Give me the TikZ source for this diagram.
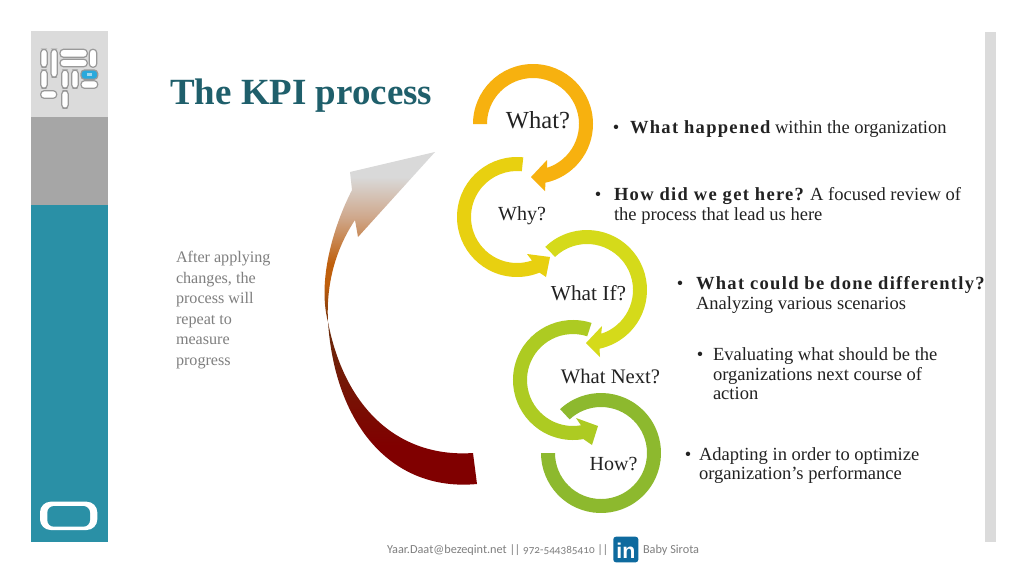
\documentclass[tikz,border=0pt]{standalone}
\usepackage{fontspec}
\usetikzlibrary{calc}
\setmainfont{Liberation Serif}
\newfontfamily\footfont[Numbers=OldStyle]{Carlito}
\newfontfamily\lifont{Liberation Sans}
\definecolor{cWhat}{HTML}{F7B10F}
\definecolor{cWhy}{HTML}{E8D010}
\definecolor{cIf}{HTML}{D5DA1A}
\definecolor{cNext}{HTML}{ADCB22}
\definecolor{cHow}{HTML}{8DB92E}
\definecolor{sA}{HTML}{800000}
\definecolor{sB}{HTML}{6B2B0B}
\definecolor{sC}{HTML}{BF5F0C}
\definecolor{sD}{HTML}{CFA88C}
\definecolor{sE}{HTML}{D9D9D9}
\definecolor{titleC}{HTML}{1F5F6B}
\definecolor{tealC}{HTML}{2A90A6}
\definecolor{bodyC}{HTML}{222222}
\definecolor{greyT}{HTML}{7F7F7F}
\definecolor{liC}{HTML}{0E6A9E}
\definecolor{blueT}{HTML}{29A9DC}
\pgfdeclareverticalshading{bigarrow}{100bp}{color(0bp)=(sA); color(31bp)=(sA); color(48.5bp)=(sB); color(55bp)=(sC); color(58bp)=(sC); color(65bp)=(sD); color(71bp)=(sE); color(100bp)=(sE)}
\newcommand{\bt}[1]{{\bfseries\addfontfeature{LetterSpace=7}#1}}
\tikzset{
  ink/.style={inner sep=0pt,outer sep=0pt,anchor=base west,text=bodyC,font=\fontsize{13.9}{16}\selectfont},
  bul/.style={inner sep=0pt,outer sep=0pt,anchor=base,text=bodyC,font=\fontsize{13.9}{16}\selectfont},
  ring/.style={inner sep=0pt,outer sep=0pt,anchor=base,text=bodyC,font=\fontsize{15}{18}\selectfont},
  side/.style={inner sep=0pt,outer sep=0pt,anchor=base west,text=greyT,font=\fontsize{12.1}{14}\selectfont},
  foot/.style={inner sep=0pt,outer sep=0pt,anchor=base west,text=greyT,font=\footfont\fontsize{9.2}{11}\selectfont},
  tile/.style={draw=black!40,line width=0.9pt,fill=white,rounded corners=2.6pt},
}
% colour, cx, cy, start, endOuter, endInner, headOuter, tip, headInner
\newcommand{\arrowring}[9]{\fill[#1] ($(#2,#3)+(#4:60)$) arc[start angle=#4,end angle=#5,radius=60] -- (#7) -- (#8) -- (#9) -- ($(#2,#3)+(#6:46)$) arc[start angle=#6,end angle=#4,radius=46] -- cycle;}
\begin{document}
\begin{tikzpicture}[x=0.75pt,y=-0.75pt]
\useasboundingbox (0,0) rectangle (1024,576);
\fill[white] (0,0) rectangle (1024,576);
% left panel
\fill[black!14] (31,31) rectangle (108,117);
\fill[black!35] (31,117) rectangle (108,205);
\fill[tealC] (31,205) rectangle (108,542);
\fill[black!14] (985,32) rectangle (996,542);
% tiles
\foreach \a/\b/\c/\d in {40.7/49.3/47.3/67.3,51/49.3/57.3/77.3,60/49.3/87.3/57.3,60/59.3/87.3/66.7,89.3/49.3/96.7/67.3,40.7/70/47.3/88.3,61.7/70/68.3/88.3,71.7/70/78.3/88.3,81/80.7/97.7/88.3,40.7/90.7/56.7/98.3,61.7/90.7/68.3/108.3}
  \draw[tile] (\a,\b) rectangle (\c,\d);
\draw[tile,fill=blueT] (81,70) rectangle (97.7,79.3);
\fill[white!55!blueT] (86.5,73) rectangle (92,76);
% logo
\fill[white,rounded corners=8pt] (40,501.7) rectangle (97.3,530);
\fill[tealC,rounded corners=5pt] (47.3,506) rectangle (90,526.7);
% title
\node[inner sep=0pt,anchor=base west,text=titleC,font=\bfseries\fontsize{27.7}{30}\selectfont] (title) at (170,104) {The KPI process};
% big arrow
\begin{scope}
\clip (477,484) .. controls (392,492) and (335,425) .. (328,322) .. controls (317,280) and (334,225) .. (352,190) -- (350,172) -- (435,152) -- (358,237) -- (355,220) .. controls (335,250) and (326,285) .. (328,322) .. controls (345,410) and (400,458) .. (473,453) -- cycle;
\shade[shading=bigarrow] (300,486) rectangle (480,150);
\end{scope}
% rings
\fill[cHow] ($(601,453)+(227:60)$) arc[start angle=227,end angle=540,radius=60] -- ($(601,453)+(540:46)$) arc[start angle=540,end angle=227,radius=46] -- cycle;
\arrowring{cNext}{573}{380}{288}{80}{80}{592,445}{598,426}{576,418}
\arrowring{cIf}{587}{290}{226}{438}{432}{600,357}{586,343}{602,326}
\arrowring{cWhy}{517}{217}{276}{68}{71}{546,277}{550,257}{527,254}
\arrowring{cWhat}{533}{124}{180}{438}{432}{545,191}{531,177}{547,160}
% ring labels
\node[ring,font=\fontsize{18.4}{22}\selectfont] (what) at (538,128) {What?};
\node[ring] (why) at (522,220) {Why?};
\node[ring,font=\fontsize{16}{18}\selectfont] (whatif) at (588.5,300) {What If?};
\node[ring,font=\fontsize{15.5}{18}\selectfont] (whatnext) at (610.5,383) {What Next?};
\node[ring] (how) at (613.5,470) {How?};
% bullets
\node[bul] (b1) at (616,133) {•};
\node[ink] (t1) at (630,133) {\bt{What happened} within the organization};
\node[bul] (b2) at (598,200) {•};
\node[ink] (t2a) at (614,200) {\bt{How did we get here?} A focused review of};
\node[ink] (t2b) at (614,220) {the process that lead us here};
\node[bul] (b3) at (680,289) {•};
\node[ink] (t3a) at (696,289) {\bt{What could be done differently?}};
\node[ink] (t3b) at (696,309) {Analyzing various scenarios};
\node[bul] (b4) at (700,360) {•};
\node[ink] (t4a) at (713,360) {Evaluating what should be the};
\node[ink] (t4b) at (713,380) {organizations next course of};
\node[ink] (t4c) at (713,399) {action};
\node[bul] (b5) at (688,460) {•};
\node[ink] (t5a) at (699,460) {Adapting in order to optimize};
\node[ink] (t5b) at (699,479) {organization’s performance};
% side text
\node[side] (s1) at (176,262) {After applying};
\node[side] (s2) at (176,283) {changes, the};
\node[side] (s3) at (176,303) {process will};
\node[side] (s4) at (176,324) {repeat to};
\node[side] (s5) at (176,344) {measure};
\node[side] (s6) at (176,365) {progress};
% footer
\node[foot] (f1) at (387,553) {Yaar.Daat@bezeqint.net |\kern-0.4pt| {\fontsize{8.4}{11}\selectfont 972-544385410} |\kern-0.4pt|};
\fill[fill=liC,rounded corners=2pt] (613.3,536.7) rectangle (638.3,562.3);
\node[inner sep=0pt,anchor=base,text=white,font=\lifont\bfseries\fontsize{16}{18}\selectfont] (li) at (625.8,558) {in};
\node[foot] (f2) at (643,553) {Baby Sirota};
\end{tikzpicture}
\end{document}
